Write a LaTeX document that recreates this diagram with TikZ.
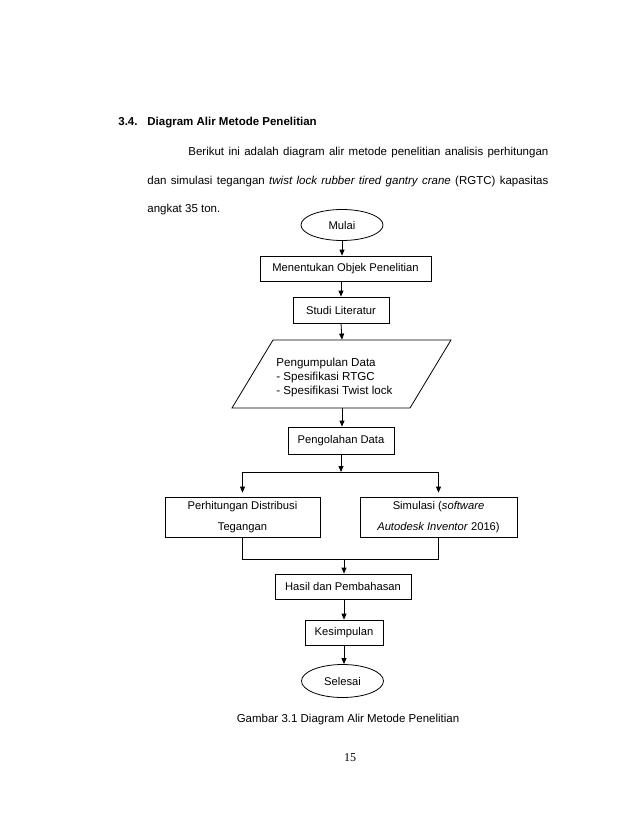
\documentclass[tikz,border=0pt]{standalone}
\usepackage{fontspec}
\setmainfont{Liberation Sans}
\newfontfamily\pnserif{Liberation Serif}
\usetikzlibrary{arrows.meta,shapes.geometric}
\begin{document}
\begin{tikzpicture}[x=1pt,y=-1pt,line width=0.8pt,
  dfont/.style={font=\fontsize{11.2}{14}\selectfont},
  box/.style={draw,rectangle,inner sep=0pt,dfont},
  term/.style={draw,ellipse,inner sep=0pt,minimum width=82pt,minimum height=31pt,dfont},
  arr/.style={-{Triangle[length=6pt,width=5pt]}},
  txt/.style={inner sep=0pt,font=\fontsize{11.5}{14}\selectfont}]
\useasboundingbox (0,0) rectangle (638,826);

% heading and paragraph
\node[inner sep=0pt,anchor=west,font=\fontsize{11.5}{14}\selectfont\bfseries] (h1) at (118,123)
  {\makebox[29pt][l]{3.4.}Diagram Alir Metode Penelitian};
\node[txt,anchor=west] (p1) at (188,153) {\makebox[360pt][s]{Berikut ini adalah diagram alir metode penelitian analisis perhitungan}};
\node[txt,anchor=west] (p2) at (147,182) {\makebox[401pt][s]{dan simulasi tegangan \textit{twist lock rubber tired gantry crane} (RGTC) kapasitas}};
\node[txt,anchor=west] (p3) at (147,210) {angkat 35 ton.};

% flowchart nodes
\node[term] (mulai) at (342,225) {Mulai};
\node[box,minimum width=171pt,minimum height=25pt] (men) at (345.5,268.5) {Menentukan Objek Penelitian};
\node[box,minimum width=96pt,minimum height=26pt] (studi) at (341,310) {Studi Literatur};
\node[inner sep=0pt,minimum width=140pt,minimum height=68pt] (data) at (342,374) {};
\draw (273,340) -- (451,340) -- (410,408) -- (232,408) -- cycle;
\node[inner sep=0pt,anchor=north west,align=left,font=\fontsize{11.6}{14}\selectfont] (datatext) at (276,358)
  {Pengumpulan Data\\- Spesifikasi RTGC\\- Spesifikasi Twist lock};
\node[box,minimum width=106pt,minimum height=27pt] (proc) at (341,440.5) {Pengolahan Data};
\node[box,minimum width=155pt,minimum height=40pt,align=center,font=\fontsize{11.2}{21}\selectfont] (perh) at (242.5,517)
  {Perhitungan Distribusi\\Tegangan};
\node[box,minimum width=157pt,minimum height=40pt,align=center,font=\fontsize{11.2}{21}\selectfont] (sim) at (438.5,517)
  {Simulasi (\textit{software}\\\textit{Autodesk Inventor} 2016)};
\node[box,minimum width=136pt,minimum height=25pt] (hasil) at (343,586.5) {Hasil dan Pembahasan};
\node[box,minimum width=78pt,minimum height=25pt] (kes) at (344,632.5) {Kesimpulan};
\node[term,minimum height=33pt] (selesai) at (342.5,681) {Selesai};

% connectors
\draw[arr] (mulai.south) -- (mulai.south |- men.north);
\draw[arr] (studi.north |- men.south) -- (studi.north);
\draw[arr] (studi.south) -- (data.north);
\draw[arr] (data.south) -- (data.south |- proc.north);
\coordinate (split) at (341,472);
\draw[arr] (proc.south) -- (split);
\draw (perh.north |- split) -- (sim.north |- split);
\draw[arr,shorten >=4pt] (perh.north |- split) -- (perh.north);
\draw[arr,shorten >=4pt] (sim.north |- split) -- (sim.north);
\coordinate (merge) at (344,559);
\draw (perh.south) -- (perh.south |- merge) -- (sim.south |- merge) -- (sim.south);
\draw[arr] (merge) -- (merge |- hasil.north);
\draw[arr] (kes.north |- hasil.south) -- (kes.north);
\draw[arr] (kes.south) -- (kes.south |- selesai.north);

% caption and page number
\node[txt] (cap) at (348,720) {Gambar 3.1 Diagram Alir Metode Penelitian};
\node[inner sep=0pt,font=\pnserif\fontsize{12}{14}\selectfont] (pn) at (350,758) {15};
\end{tikzpicture}
\end{document}
